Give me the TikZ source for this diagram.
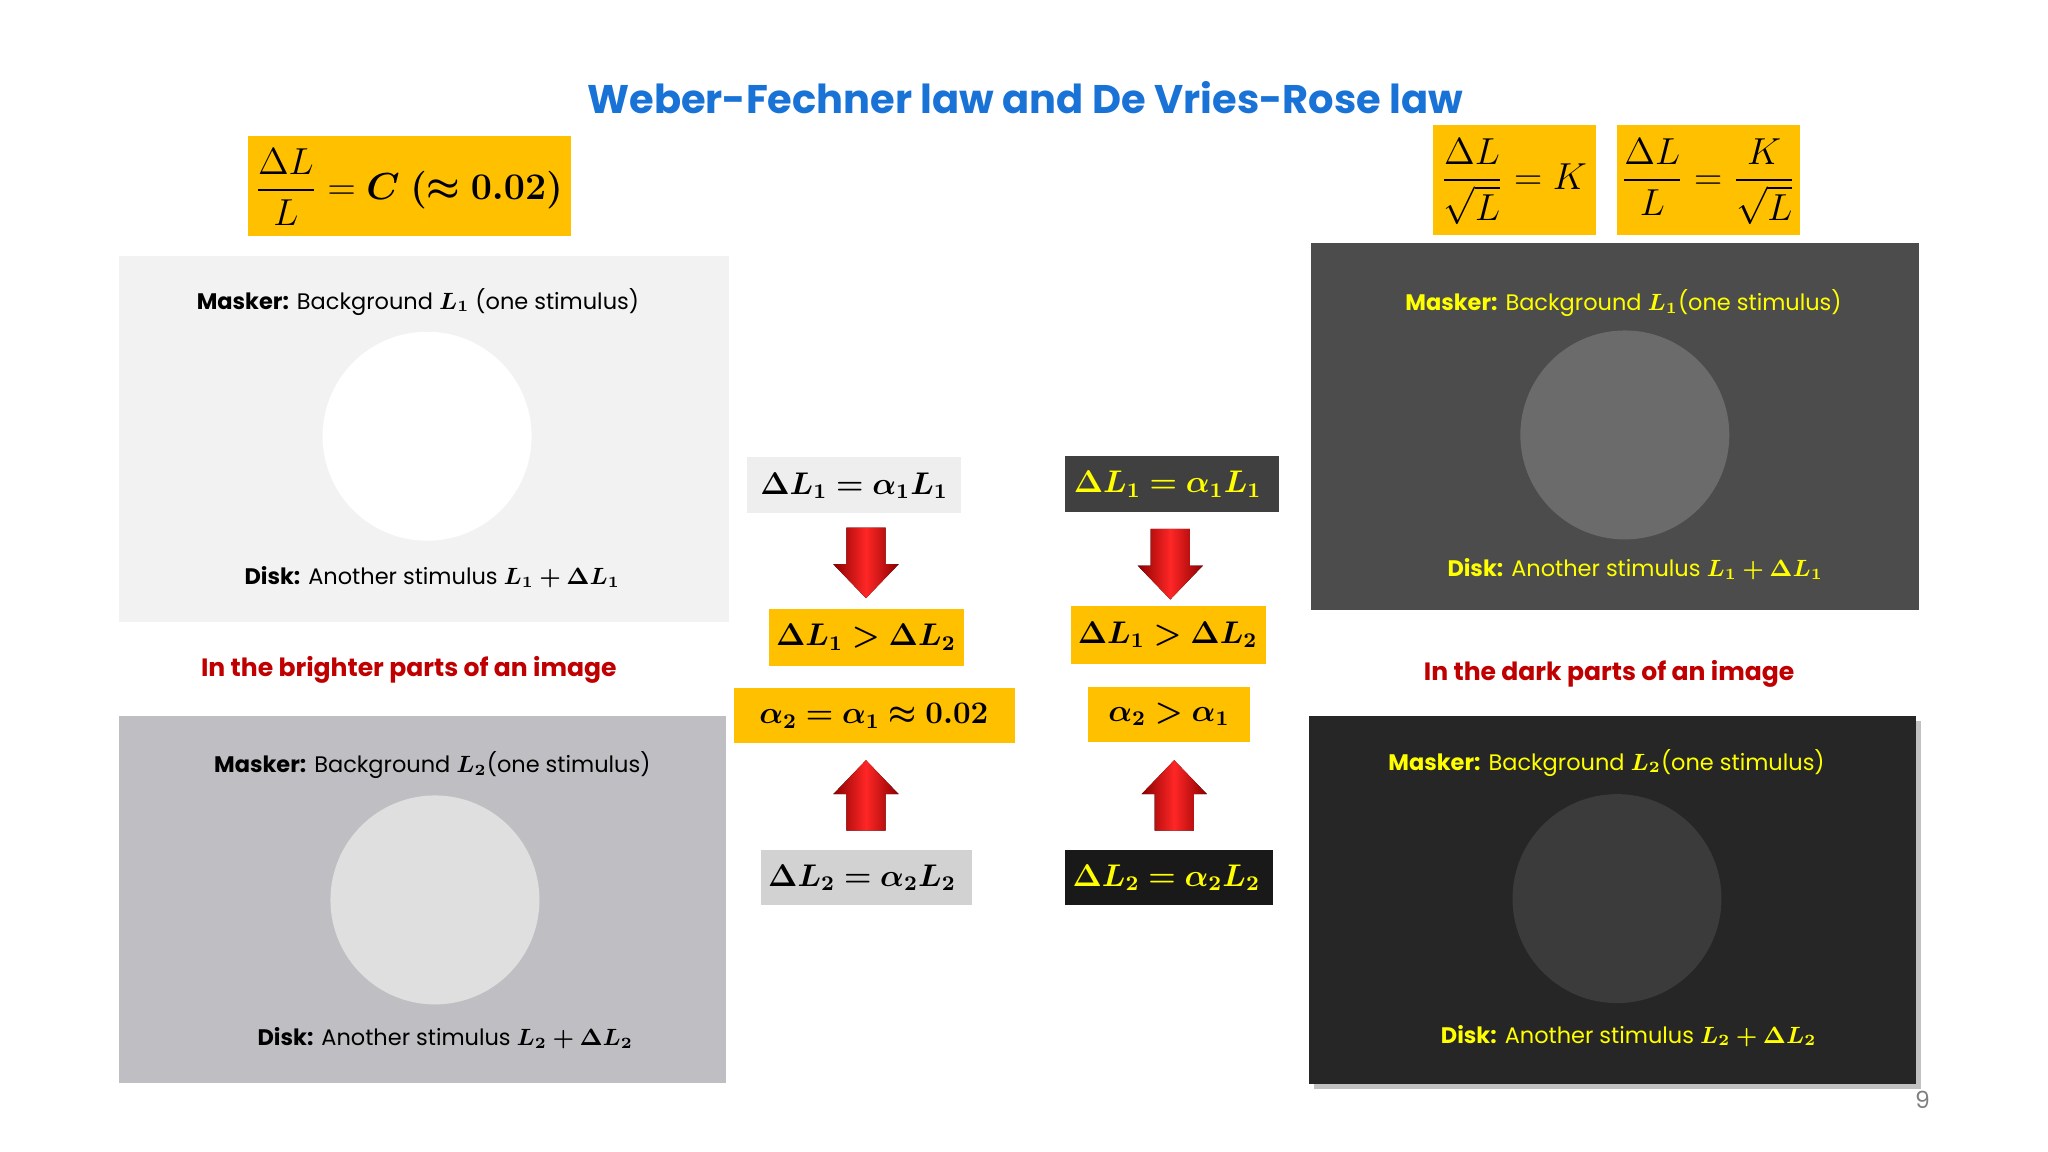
\documentclass[tikz,border=0pt]{standalone}
\usepackage{amsmath,bm}
\usepackage{fontspec}
\setmainfont{Poppins}
\usetikzlibrary{shadows}
\definecolor{ttl}{RGB}{25,115,215}
\definecolor{ylw}{RGB}{255,192,0}
\definecolor{dred}{RGB}{192,0,0}
\definecolor{ytxt}{RGB}{255,255,0}
\definecolor{blgray}{RGB}{191,190,194}
\tikzset{
 ptxt/.style={font=\fontsize{8.6}{10}\selectfont},
 mtxt/.style={font=\fontsize{14}{16}\selectfont},
 midtxt/.style={font=\fontsize{12}{14}\selectfont},
 redlbl/.style={text=dred,font=\fontsize{9.6}{11}\selectfont\bfseries},
}
\newcommand{\blockarrowdown}[2]{%
 \fill[left color=red!55!black,right color=red!55!black,middle color=red!85] (#1-15,#2) -- (#1+15,#2) -- (#1+15,#2+28) -- (#1+25,#2+28) -- (#1,#2+54) -- (#1-25,#2+28) -- (#1-15,#2+28) -- cycle;}
\newcommand{\blockarrowup}[2]{%
 \fill[left color=red!55!black,right color=red!55!black,middle color=red!85] (#1-15,#2) -- (#1+15,#2) -- (#1+15,#2-28) -- (#1+25,#2-28) -- (#1,#2-54) -- (#1-25,#2-28) -- (#1-15,#2-28) -- cycle;}
\begin{document}
\begin{tikzpicture}[x=0.5pt,y=-0.5pt]
\useasboundingbox[fill=white] (0,0) rectangle (1568,882);
\node[text=ttl,font=\fontsize{15.3}{18}\selectfont\bfseries] (title) at (785,75) {Weber-Fechner law and De Vries-Rose law};
% formula boxes
\fill[ylw] (190,104) rectangle (437,181);
\node[mtxt] (f1) at (313,143) {$\displaystyle\frac{\Delta L}{L}=\bm{C}\;\bm{(\approx 0.02)}$};
\fill[ylw] (1097,96) rectangle (1222,180);
\node[mtxt] (f2) at (1159,139) {$\displaystyle\frac{\Delta L}{\sqrt{L}}=K$};
\fill[ylw] (1238,96) rectangle (1378,180);
\node[mtxt] (f3) at (1308,139) {$\displaystyle\frac{\Delta L}{L}=\frac{K}{\sqrt{L}}$};
% panels
\fill[gray!10] (91,196) rectangle (558,476);
\fill[white] (327,334) circle (80);
\node[ptxt] (m1) at (320,231) {\textbf{Masker:} Background $\bm{L_1}$ (one stimulus)};
\node[ptxt] (d1) at (331,442) {\textbf{Disk:} Another stimulus $\bm{L_1+\Delta L_1}$};
\node[redlbl] (r1) at (313,513) {In the brighter parts of an image};
\fill[blgray] (91,548) rectangle (556,829);
\fill[gray!25] (333,689) circle (80);
\node[ptxt] (m2) at (331,586) {\textbf{Masker:} Background $\bm{L_2}$(one stimulus)};
\node[ptxt] (d2) at (341,795) {\textbf{Disk:} Another stimulus $\bm{L_2+\Delta L_2}$};
\fill[black!70] (1004,186) rectangle (1469,467);
\fill[black!58] (1244,333) circle (80);
\node[ptxt,text=ytxt] (m3) at (1243,232) {\textbf{Masker:} Background $\bm{L_1}$(one stimulus)};
\node[ptxt,text=ytxt] (d3) at (1252,436) {\textbf{Disk:} Another stimulus $\bm{L_1+\Delta L_1}$};
\node[redlbl] (r2) at (1232,516) {In the dark parts of an image};
\fill[black!40,opacity=0.6] (1006,552) rectangle (1471,834);
\fill[black!85] (1002,548) rectangle (1467,830);
\fill[black!77] (1238,688) circle (80);
\node[ptxt,text=ytxt] (m4) at (1230,584) {\textbf{Masker:} Background $\bm{L_2}$(one stimulus)};
\node[ptxt,text=ytxt] (d4) at (1247,793) {\textbf{Disk:} Another stimulus $\bm{L_2+\Delta L_2}$};
% middle left
\fill[gray!13] (572,350) rectangle (736,393);
\node[midtxt] (a1) at (654,372) {$\bm{\Delta L_1=\alpha_1 L_1}$};
\blockarrowdown{663}{404}
\fill[ylw] (589,466) rectangle (738,510);
\node[midtxt] (a2) at (663,488) {$\bm{\Delta L_1>\Delta L_2}$};
\fill[ylw] (562,527) rectangle (777,569);
\node[midtxt] (a3) at (669,548) {$\bm{\alpha_2=\alpha_1\approx 0.02}$};
\blockarrowup{663}{636}
\fill[gray!35] (583,651) rectangle (744,693);
\node[midtxt] (a4) at (660,672) {$\bm{\Delta L_2=\alpha_2 L_2}$};
% middle right
\fill[black!75] (815,349) rectangle (979,392);
\node[midtxt,text=ytxt] (b1) at (894,371) {$\bm{\Delta L_1=\alpha_1 L_1}$};
\blockarrowdown{896}{405}
\fill[ylw] (820,464) rectangle (969,508);
\node[midtxt] (b2) at (894,486) {$\bm{\Delta L_1>\Delta L_2}$};
\fill[ylw] (833,526) rectangle (957,568);
\node[midtxt] (b3) at (895,547) {$\bm{\alpha_2>\alpha_1}$};
\blockarrowup{899}{636}
\fill[black!90] (815,651) rectangle (975,693);
\node[midtxt,text=ytxt] (b4) at (893,672) {$\bm{\Delta L_2=\alpha_2 L_2}$};
\node[text=gray,font=\fontsize{9}{10}\selectfont] (pg) at (1472,842) {9};
\end{tikzpicture}
\end{document}
